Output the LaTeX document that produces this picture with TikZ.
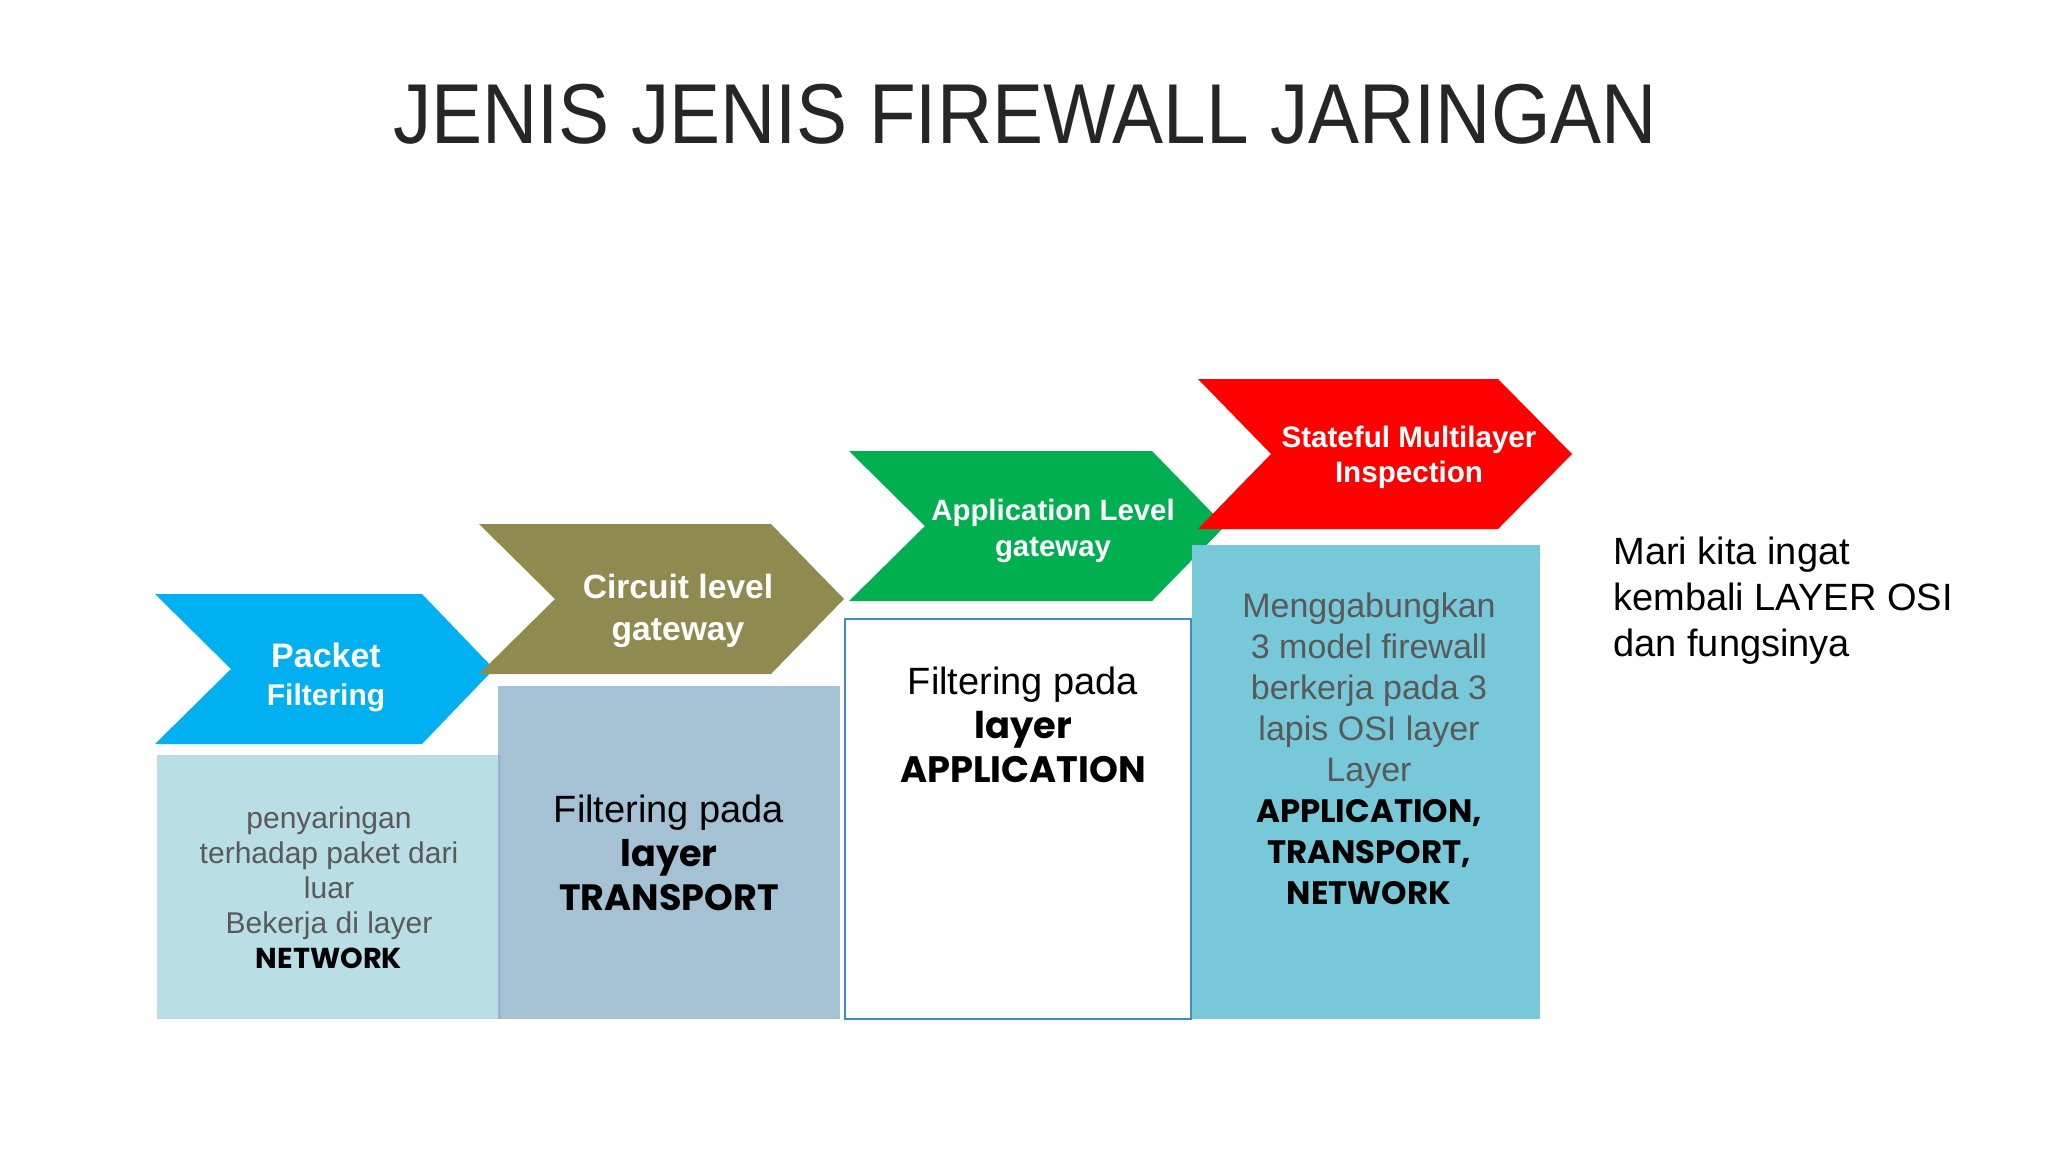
\documentclass[tikz,border=0pt]{standalone}
\usepackage{fontspec}
\setmainfont{Liberation Sans}
\newfontfamily\titlefont[FakeStretch=0.9]{Liberation Sans}
\newfontfamily\geo{Poppins}
\definecolor{cblue}{HTML}{00B0F0}
\definecolor{colive}{HTML}{8F8A50}
\definecolor{cgreen}{HTML}{00B050}
\definecolor{cred}{HTML}{FF0000}
\definecolor{bpacket}{HTML}{B9DEE6}
\definecolor{btransport}{HTML}{A5C1D4}
\definecolor{bedge}{HTML}{95B6CC}
\definecolor{bstate}{HTML}{77C8D8}
\definecolor{bappline}{HTML}{3A8FC0}
\definecolor{graytxt}{HTML}{595959}
\definecolor{titlecol}{HTML}{262626}
\tikzset{
  arrowlabel/.style={text=white, align=center, inner sep=0pt},
  boxtext/.style={align=center, inner sep=0pt},
}
\begin{document}
\begin{tikzpicture}[x=0.5pt,y=-0.5pt]
\useasboundingbox[fill=white] (0,0) rectangle (2048,1152);

% title
\node[font=\titlefont\fontsize{42.5}{46}\selectfont, text=titlecol, inner sep=0pt] (title) at (1025,114) {JENIS JENIS FIREWALL JARINGAN};

% chevrons
\fill[cblue] (155,594) -- (422,594) -- (494,669) -- (422,744) -- (155,744) -- (231,669) -- cycle;
\fill[colive] (479,524) -- (771,524) -- (844,599) -- (771,674) -- (479,674) -- (555,599) -- cycle;
\fill[cgreen] (849,451) -- (1152,451) -- (1225,526) -- (1152,601) -- (849,601) -- (925,526) -- cycle;
\fill[cred] (1198,379) -- (1498,379) -- (1572,454) -- (1498,529) -- (1198,529) -- (1271,454) -- cycle;

% boxes
\fill[bpacket] (157,755) rectangle (500,1019);
\fill[btransport] (498,686) rectangle (840,1019);
\draw[color=bedge, line width=1.5pt] (499,755) -- (499,1019);
\filldraw[fill=white, draw=bappline, line width=1pt] (845,619) rectangle (1191,1019);
\fill[bstate] (1192,545) rectangle (1540,1019);

% chevron labels
\node[arrowlabel, font=\bfseries\fontsize{17}{19}\selectfont] (lpacket) at (326,677) {Packet\\{\fontsize{15}{19}\selectfont Filtering}};
\node[arrowlabel, font=\bfseries\fontsize{16.8}{21}\selectfont] (lcircuit) at (678,611) {Circuit level\\gateway};
\node[arrowlabel, font=\bfseries\fontsize{14.7}{18}\selectfont] (lapp) at (1053,531) {Application Level\\gateway};
\node[arrowlabel, font=\bfseries\fontsize{14.8}{17.5}\selectfont] (lstate) at (1409,457) {Stateful Multilayer\\Inspection};

% box texts
\node[boxtext, text=graytxt, font=\fontsize{15}{17.5}\selectfont] (tpacket) at (329,888) {penyaringan\\terhadap paket dari\\luar\\Bekerja di layer\\{\color{black}\geo\bfseries\fontsize{14.4}{17.5}\selectfont NETWORK}};
\node[boxtext, font=\fontsize{19}{22}\selectfont] (ttransport) at (669,853) {Filtering pada\\{\geo\bfseries\fontsize{18.3}{22}\selectfont layer}\\{\geo\bfseries\fontsize{18.3}{22}\selectfont TRANSPORT}};
\node[boxtext, font=\fontsize{19}{22}\selectfont] (tapp) at (1023,725) {Filtering pada\\{\geo\bfseries\fontsize{18.4}{22}\selectfont layer}\\{\geo\bfseries\fontsize{18.4}{22}\selectfont APPLICATION}};
\node[boxtext, text=graytxt, font=\fontsize{17}{20.5}\selectfont] (tstate) at (1369,749) {Menggabungkan\\3 model firewall\\berkerja pada 3\\lapis OSI layer\\Layer\\{\color{black}\geo\bfseries\fontsize{16.2}{20.5}\selectfont APPLICATION,}\\{\color{black}\geo\bfseries\fontsize{16.2}{20.5}\selectfont TRANSPORT,}\\{\color{black}\geo\bfseries\fontsize{16.2}{20.5}\selectfont NETWORK}};

% side note
\node[align=left, anchor=west, inner sep=0pt, font=\fontsize{19}{23}\selectfont] (note) at (1613,601) {Mari kita ingat\\kembali LAYER OSI\\dan fungsinya};
\end{tikzpicture}
\end{document}
